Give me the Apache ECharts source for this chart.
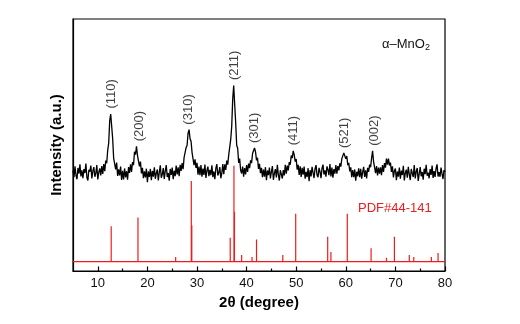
<!DOCTYPE html>
<html>
<head>
<meta charset="utf-8">
<script src="https://cdn.jsdelivr.net/npm/echarts@6/dist/echarts.min.js"></script>
<style>
  html, body { margin: 0; padding: 0; background: #fff; }
  #chart { width: 520px; height: 324px; }
</style>
</head>
<body>
<div id="chart"></div>
<script>
// Measured XRD scan: 2θ from 5° to 80°, step 0.2°
const scanStart = 5;
const scanStep = 0.2;
const counts = [
  39.8, 37.2, 41.5, 38.0, 36.4, 40.9, 38.6, 42.3, 37.5, 39.9,
  36.8, 40.4, 38.9, 42.6, 37.1, 35.9, 40.2, 39.4, 41.8, 36.7,
  39.6, 41.2, 37.4, 38.8, 42.0, 36.3, 39.1, 40.7, 37.9, 41.6,
  38.5, 42.4, 39.6, 43.8, 42.8, 48.0, 50.8, 59.6, 62.3, 57.4,
  52.4, 44.7, 44.2, 40.3, 43.0, 37.7, 40.3, 37.9, 41.4, 36.1,
  39.8, 36.3, 40.7, 37.1, 39.6, 36.2, 41.2, 38.9, 42.3, 39.3,
  43.2, 42.0, 47.3, 46.2, 49.5, 45.9, 46.4, 41.5, 43.4, 38.7,
  40.9, 36.8, 39.5, 37.1, 40.6, 35.2, 39.5, 37.3, 40.5, 36.0,
  39.7, 37.4, 41.1, 36.6, 38.8, 40.3, 35.9, 39.2, 41.9, 37.0,
  38.4, 40.8, 36.5, 39.6, 42.0, 37.3, 38.9, 35.8, 40.5, 38.1,
  41.0, 36.4, 39.8, 37.6, 41.8, 38.3, 41.1, 37.6, 42.1, 39.7,
  42.8, 40.4, 45.1, 44.7, 49.0, 49.8, 54.7, 56.1, 52.5, 51.5,
  47.1, 47.2, 42.0, 44.3, 40.9, 42.9, 38.2, 41.4, 38.0, 42.0,
  37.4, 40.6, 38.1, 42.2, 36.9, 39.8, 41.4, 37.6, 40.1, 38.0,
  41.9, 37.2, 39.5, 36.4, 40.8, 42.4, 37.9, 39.0, 41.2, 36.8,
  38.7, 42.4, 38.4, 42.3, 40.1, 43.8, 42.2, 46.2, 46.5, 52.2,
  57.4, 68.2, 73.6, 66.0, 58.8, 49.9, 48.7, 42.9, 44.6, 40.0,
  38.7, 41.4, 37.4, 40.8, 38.3, 42.0, 39.3, 42.6, 40.8, 43.9,
  42.8, 46.6, 46.2, 48.8, 47.3, 43.9, 44.9, 40.5, 42.5, 38.8,
  40.9, 37.2, 40.2, 37.4, 41.2, 36.0, 39.9, 38.0, 41.0, 36.7,
  39.3, 41.6, 36.2, 38.7, 40.4, 37.1, 42.1, 38.2, 35.9, 40.0,
  40.3, 36.7, 40.0, 37.9, 42.1, 38.6, 41.8, 39.9, 43.2, 42.2,
  45.8, 44.8, 47.7, 46.1, 43.4, 44.4, 40.2, 42.1, 38.1, 41.5,
  37.3, 40.9, 38.2, 41.4, 36.6, 39.3, 37.3, 40.8, 35.6, 40.0,
  37.5, 41.3, 39.0, 36.9, 40.6, 42.0, 38.1, 37.2, 40.9, 39.4,
  36.8, 40.7, 42.2, 38.3, 39.9, 37.4, 41.5, 40.2, 38.0, 42.4,
  37.5, 41.0, 37.0, 40.4, 38.6, 42.0, 38.6, 41.6, 39.9, 42.7,
  41.4, 44.6, 44.2, 46.8, 46.7, 44.5, 45.6, 42.0, 42.9, 39.5,
  41.1, 37.2, 40.0, 37.2, 40.3, 35.8, 39.4, 37.6, 40.7, 37.2,
  40.5, 36.6, 39.2, 41.3, 37.3, 39.9, 36.7, 40.9, 39.3, 42.2,
  41.2, 44.8, 47.7, 43.4, 43.0, 38.8, 41.6, 37.9, 41.0, 38.6,
  41.1, 38.0, 42.0, 39.3, 42.8, 41.0, 44.6, 42.2, 44.6, 41.9,
  43.0, 39.3, 41.5, 37.1, 39.7, 40.7, 36.0, 39.5, 37.4, 41.0,
  36.6, 39.8, 38.1, 41.7, 35.9, 38.9, 40.2, 37.0, 41.3, 38.3,
  36.1, 40.5, 38.8, 37.3, 42.0, 36.7, 39.4, 40.9, 35.7, 38.6,
  41.2, 37.6, 39.3, 36.2, 40.6, 38.4, 42.1, 37.8, 39.0, 36.8,
  40.4, 38.1, 41.8, 36.9, 39.6, 37.3, 40.7, 42.3, 37.5, 39.2,
  37.4, 41.0, 38.6, 36.5, 40.1, 39.3
];

// Reflection indices and the 2θ where each index is written
const hklNames = ['(110)', '(200)', '(310)', '(211)', '(301)', '(411)', '(521)', '(002)'];
const hklTwoTheta = [12.8, 18.3, 28.2, 37.5, 41.6, 49.5, 59.8, 65.7];

// Reference pattern PDF#44-141: line positions (2θ) and relative intensities
const pdfTwoTheta = [12.7, 18.1, 25.7, 28.85, 28.95, 36.7, 37.45, 37.55, 39.0, 41.1, 42.0, 45.9, 47.3,
                     49.9, 52.8, 56.35, 57.0, 60.3, 65.1, 68.2, 69.8, 72.8, 73.7, 77.25, 78.6];
const pdfIntensity = [37, 46, 5, 84, 38, 25, 100, 52, 7, 5, 23, 2, 7,
                      50, 2, 26, 10, 50, 14, 4, 26, 7, 5, 5, 9];

// Axis labels
const xTicks = [10, 20, 30, 40, 50, 60, 70, 80];
const xMinorTicks = [15, 25, 35, 45, 55, 65, 75];

// Stacking of the two patterns on the shared intensity axis
const pdfBaseline = 3.7;
const pdfScale = 0.381;
const labelLift = 8;

const scanData = counts.map((c, i) => [+(scanStart + i * scanStep).toFixed(2), c]);

const stickData = [[5, pdfBaseline]];
pdfTwoTheta.forEach((t, i) => {
  stickData.push([t, pdfBaseline], [t, pdfBaseline + pdfIntensity[i] * pdfScale], [t, pdfBaseline]);
});
stickData.push([80, pdfBaseline]);

// Each index sits above the strongest scan point near its reflection
const hklData = hklTwoTheta.map((t, i) => {
  let top = -Infinity;
  scanData.forEach(([x, y]) => { if (Math.abs(x - t) <= 0.6 && y > top) top = y; });
  return { value: [t, top + labelLift], name: hklNames[i] };
});

const font = '"Liberation Sans", Arial, Helvetica, sans-serif';

const chart = echarts.init(document.getElementById('chart'), null, { renderer: 'canvas' });
chart.setOption({
  animation: false,
  backgroundColor: '#fff',
  textStyle: { fontFamily: font },
  grid: {
    left: 73, right: 75, top: 19, bottom: 53,
    show: true, borderColor: '#000', borderWidth: 1.2, backgroundColor: 'transparent'
  },
  title: [
    {
      text: '{a|α–MnO}{s|2}',
      left: 382, top: 37, padding: 0,
      textStyle: {
        fontWeight: 'normal',
        rich: {
          a: { fontFamily: font, fontSize: 13, fontWeight: 'normal', color: '#111' },
          s: { fontFamily: font, fontSize: 9, fontWeight: 'normal', color: '#111', verticalAlign: 'bottom', padding: [6, 0, 0, 0] }
        }
      }
    },
    {
      text: 'PDF#44-141',
      left: 358, top: 202, padding: 0,
      textStyle: { fontFamily: font, fontSize: 13, fontWeight: 'normal', color: '#ee1c1c' }
    }
  ],
  xAxis: [
    {
      type: 'value', min: 5, max: 80,
      name: '2θ (degree)', nameLocation: 'middle', nameGap: 23,
      nameTextStyle: { fontFamily: font, fontSize: 15, fontWeight: 'bold', color: '#000' },
      axisLine: { show: true, lineStyle: { color: '#000', width: 1.2 } },
      axisTick: { show: true, inside: true, length: 4.5, customValues: xTicks, lineStyle: { color: '#000', width: 1.2 } },
      axisLabel: { show: true, customValues: xTicks, margin: 6, fontFamily: font, fontSize: 13, color: '#111' },
      splitLine: { show: false }
    },
    {
      type: 'value', min: 5, max: 80, position: 'bottom',
      axisLine: { show: false },
      axisTick: { show: true, inside: true, length: 2.5, customValues: xMinorTicks, lineStyle: { color: '#000', width: 1.2 } },
      axisLabel: { show: false },
      splitLine: { show: false }
    }
  ],
  yAxis: {
    type: 'value', min: 0, max: 100,
    name: 'Intensity (a.u.)', nameLocation: 'middle', nameGap: 9,
    nameTextStyle: { fontFamily: font, fontSize: 15, fontWeight: 'bold', color: '#000' },
    axisLine: { show: true, lineStyle: { color: '#000', width: 1.2 } },
    axisTick: { show: false },
    axisLabel: { show: false },
    splitLine: { show: false }
  },
  series: [
    {
      name: 'PDF#44-141', type: 'line', xAxisIndex: 0, data: stickData,
      symbol: 'none', lineStyle: { color: '#ee1c1c', width: 1.2 }, z: 2
    },
    {
      name: 'α-MnO2', type: 'line', xAxisIndex: 0, data: scanData,
      symbol: 'none', lineStyle: { color: '#000', width: 1.3 }, z: 3
    },
    {
      name: 'hkl', type: 'scatter', xAxisIndex: 0, data: hklData,
      symbolSize: 0, silent: true,
      label: {
        show: true, position: 'inside', rotate: 90,
        formatter: p => p.name,
        fontFamily: font, fontSize: 13, color: '#111'
      },
      z: 4
    }
  ]
});
</script>
</body>
</html>
